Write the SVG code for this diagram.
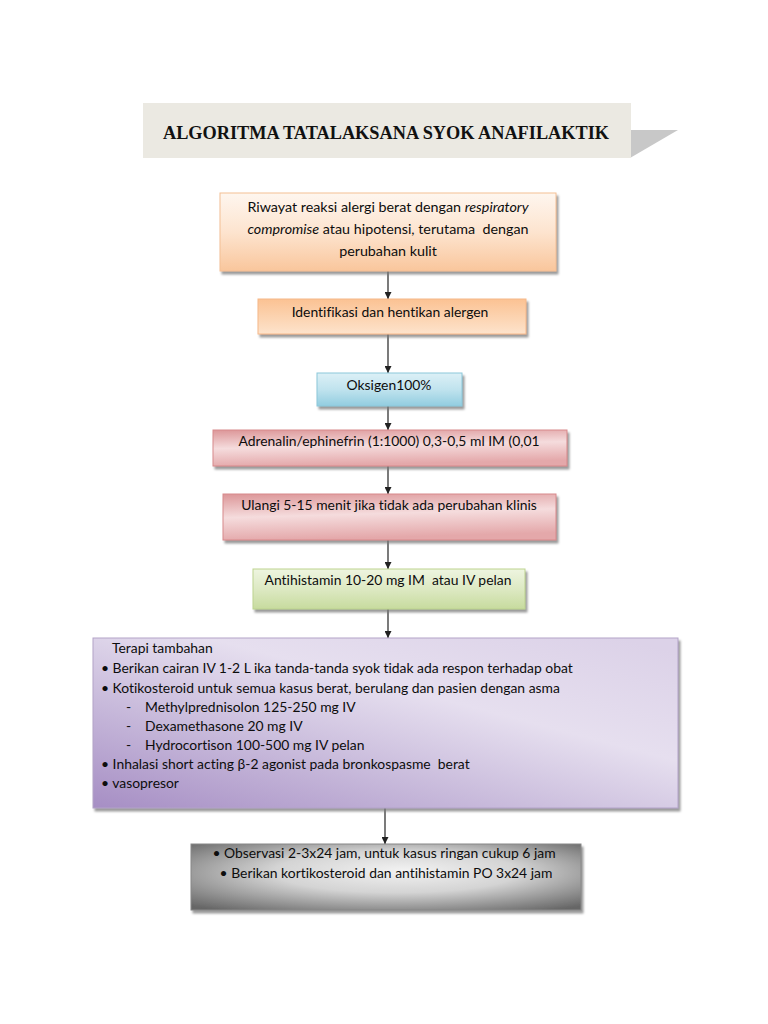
<svg xmlns="http://www.w3.org/2000/svg" width="768" height="1024" viewBox="0 0 768 1024">
<style>
.t{font-family:Lato,"Open Sans","Liberation Sans",sans-serif;font-size:13.9px;fill:#0d0d0d;white-space:pre;font-variant-ligatures:none;font-feature-settings:"liga" 0,"clig" 0}
.c{text-anchor:middle}
.b1{font-size:14.3px}
.title{font-family:"Liberation Serif","DejaVu Serif",serif;font-size:18.3px;font-weight:bold;fill:#111;text-anchor:middle}
.box{filter:url(#sh)}
.conn line{stroke:#222;stroke-width:1.2;marker-end:url(#ah)}
</style>
<defs>
<filter id="sh" x="-5%" y="-10%" width="112%" height="130%">
<feDropShadow dx="2" dy="3" stdDeviation="1.2" flood-color="#7a7a7a" flood-opacity="0.75"/>
</filter>
<marker id="ah" viewBox="0 0 10 10" refX="10" refY="5" markerWidth="7" markerHeight="7" markerUnits="userSpaceOnUse" orient="auto">
<path d="M0,0 L10,5 L0,10 z" fill="#222"/>
</marker>
<linearGradient id="gPeach" x1="0" y1="0" x2="0" y2="1">
<stop offset="0" stop-color="#fef6ef"/>
<stop offset="0.5" stop-color="#fde4cf"/>
<stop offset="1" stop-color="#f9c69c"/>
</linearGradient>
<linearGradient id="gOrange" x1="0" y1="0" x2="0" y2="1">
<stop offset="0" stop-color="#fbc293"/>
<stop offset="0.6" stop-color="#fcd6b5"/>
<stop offset="1" stop-color="#fde3cc"/>
</linearGradient>
<linearGradient id="gBlue" x1="0" y1="0" x2="0" y2="1">
<stop offset="0" stop-color="#dcf0f6"/>
<stop offset="0.5" stop-color="#c0e3ee"/>
<stop offset="1" stop-color="#92cde0"/>
</linearGradient>
<linearGradient id="gRed" x1="0" y1="0" x2="0.2" y2="1">
<stop offset="0" stop-color="#dc9698"/>
<stop offset="0.5" stop-color="#f5dcdd"/>
<stop offset="1" stop-color="#e4a8aa"/>
</linearGradient>
<linearGradient id="gGreen" x1="0" y1="0" x2="0" y2="1">
<stop offset="0" stop-color="#eef5e0"/>
<stop offset="0.5" stop-color="#dde9c3"/>
<stop offset="1" stop-color="#c7db9e"/>
</linearGradient>
<linearGradient id="gPurple" x1="0" y1="1" x2="0.9" y2="0">
<stop offset="0" stop-color="#a68ec4"/>
<stop offset="0.35" stop-color="#c8badb"/>
<stop offset="0.65" stop-color="#e6dfef"/>
<stop offset="1" stop-color="#dcd2e8"/>
</linearGradient>
<radialGradient id="gGray" cx="0.5" cy="0.45" r="0.7" fx="0.55" fy="0.4">
<stop offset="0" stop-color="#f2f2f2"/>
<stop offset="0.45" stop-color="#d4d4d4"/>
<stop offset="1" stop-color="#666"/>
</radialGradient>
</defs>
<rect width="768" height="1024" fill="#fff"/>

<g id="title">
<polygon points="630,130 678,130 630,158" fill="#c8c8c8"/>
<rect x="143" y="103" width="488" height="55" fill="#ebe9e2"/>
<text class="title" x="386" y="139">ALGORITMA TATALAKSANA SYOK ANAFILAKTIK</text>
</g>

<g id="conn" class="conn">
<line x1="388" y1="271" x2="388" y2="299"/>
<line x1="388" y1="334" x2="388" y2="373"/>
<line x1="388" y1="406" x2="388" y2="430"/>
<line x1="388" y1="466" x2="388" y2="494"/>
<line x1="388" y1="540" x2="388" y2="569"/>
<line x1="388" y1="609" x2="388" y2="638"/>
<line x1="385" y1="808" x2="385" y2="844"/>
</g>

<g id="n1">
<rect class="box" x="220" y="193" width="336" height="78" fill="url(#gPeach)" stroke="#f4bf94" stroke-width="1"/>
<text class="t c b1" x="388" y="212">Riwayat reaksi alergi berat dengan <tspan font-style="italic">respiratory</tspan></text>
<text class="t c b1" x="388" y="234"><tspan font-style="italic">compromise</tspan> atau hipotensi, terutama  dengan</text>
<text class="t c b1" x="388" y="256">perubahan kulit</text>
</g>

<g id="n2">
<rect class="box" x="258" y="299" width="268" height="35" fill="url(#gOrange)" stroke="#f6b888" stroke-width="1"/>
<text class="t c" x="390" y="317">Identifikasi dan hentikan alergen</text>
</g>

<g id="n3">
<rect class="box" x="317" y="373" width="145" height="33" fill="url(#gBlue)" stroke="#8cc8da" stroke-width="1"/>
<text class="t c" x="389" y="390">Oksigen100%</text>
</g>

<g id="n4">
<rect class="box" x="213" y="430" width="354" height="36" fill="url(#gRed)" stroke="#d8898b" stroke-width="1"/>
<text class="t c" x="389" y="446">Adrenalin/ephinefrin (1:1000) 0,3-0,5 ml IM (0,01</text>
</g>

<g id="n5">
<rect class="box" x="223" y="494" width="333" height="46" fill="url(#gRed)" stroke="#d8898b" stroke-width="1"/>
<text class="t c" x="389" y="510">Ulangi 5-15 menit jika tidak ada perubahan klinis</text>
</g>

<g id="n6">
<rect class="box" x="253" y="569" width="272" height="40" fill="url(#gGreen)" stroke="#bdd38f" stroke-width="1"/>
<text class="t c" x="388" y="585">Antihistamin 10-20 mg IM  atau IV pelan</text>
</g>

<g id="n7">
<rect class="box" x="93" y="638" width="585" height="170" fill="url(#gPurple)" stroke="#b3a3c8" stroke-width="1"/>
<text class="t" x="112" y="653">Terapi tambahan</text>
<text class="t" x="101" y="673">• Berikan cairan IV 1-2 L ika tanda-tanda syok tidak ada respon terhadap obat</text>
<text class="t" x="101" y="693">• Kotikosteroid untuk semua kasus berat, berulang dan pasien dengan asma</text>
<text class="t" x="126" y="712">-</text>
<text class="t" x="145" y="712">Methylprednisolon 125-250 mg IV</text>
<text class="t" x="126" y="731">-</text>
<text class="t" x="145" y="731">Dexamethasone 20 mg IV</text>
<text class="t" x="126" y="750">-</text>
<text class="t" x="145" y="750">Hydrocortison 100-500 mg IV pelan</text>
<text class="t" x="101" y="769">• Inhalasi short acting β-2 agonist pada bronkospasme  berat</text>
<text class="t" x="101" y="788">• vasopresor</text>
</g>

<g id="n8">
<rect class="box" x="191" y="844" width="390" height="66" fill="url(#gGray)" stroke="#888" stroke-width="1"/>
<text class="t c" x="384" y="858">• Observasi 2-3x24 jam, untuk kasus ringan cukup 6 jam</text>
<text class="t c" x="386" y="878">• Berikan kortikosteroid dan antihistamin PO 3x24 jam</text>
</g>
</svg>
